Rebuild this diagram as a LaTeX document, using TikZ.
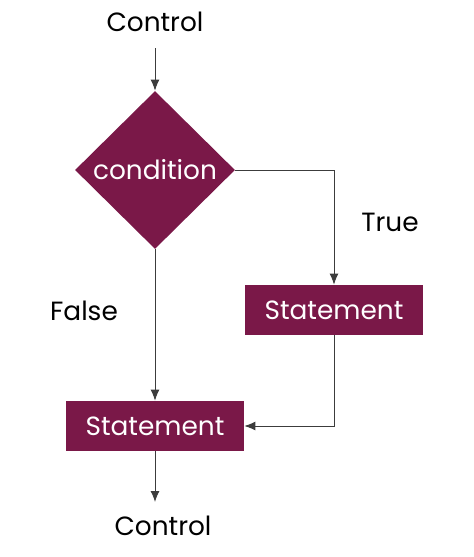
\documentclass[tikz,border=0pt]{standalone}
\usepackage{fontspec}
\setmainfont{Poppins}
\usepackage{tikz}
\usetikzlibrary{positioning, arrows.meta, shapes.geometric, calc}
\definecolor{fc-maroon}{RGB}{122,24,72}
\definecolor{fc-line}{RGB}{60,60,60}
\tikzset{
  fc@decision/.style={
    diamond, fill=fc-maroon, draw=none, inner sep=0pt,
    minimum width=3.2cm, minimum height=3.16cm,
    text=white, font=\fontsize{15}{18}\selectfont
  },
  fc@stmt/.style={
    rectangle, fill=fc-maroon, draw=none,
    minimum width=3.56cm, minimum height=1.0cm,
    text=white, font=\fontsize{15}{18}\selectfont
  },
  fc@txt/.style={font=\fontsize{15}{18}\selectfont, inner sep=0pt},
  fc@arr/.style={-{Latex[length=2.2mm, width=1.8mm]}, fc-line, line width=0.55pt},
}

\begin{document}
\begin{tikzpicture}
  \useasboundingbox (0,0) rectangle (9.48,-11.14);

  \node[fc@txt]      (ctrlin)   at (3.10,-0.44)  {Control};
  \node[fc@decision] (cond)     at (3.10,-3.40)  {condition};
  \node[fc@stmt]     (stmttrue) at (6.68,-6.20)  {Statement};
  \node[fc@stmt]     (stmtnext) at (3.10,-8.52)  {Statement};
  \node[fc@txt]      (ctrlout)  at (3.26,-10.52) {Control};
  \node[fc@txt]      (lbltrue)  at (7.80,-4.44)  {True};
  \node[fc@txt]      (lblfalse) at (1.68,-6.22)  {False};
  \coordinate (instart) at (3.10,-0.96);
  \coordinate (outend)  at (3.10,-10.04);

  \draw[fc@arr] (instart) -- (cond.north);
  \draw[fc@arr] (cond.east) -| (stmttrue.north);
  \draw[fc@arr] (cond.south) -- (stmtnext.north);
  \draw[fc@arr] (stmttrue.south) |- (stmtnext.east);
  \draw[fc@arr] (stmtnext.south) -- (outend);
\end{tikzpicture}
\end{document}
